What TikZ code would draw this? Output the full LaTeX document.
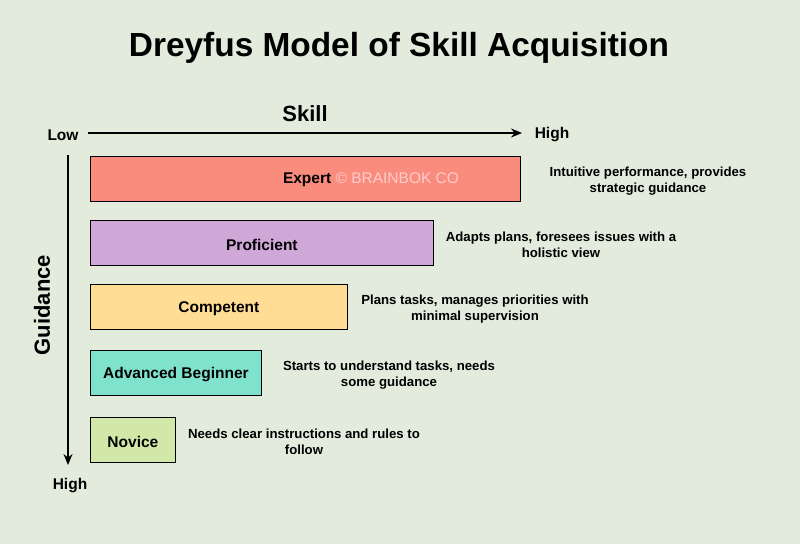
\documentclass[tikz,border=0pt]{standalone}
\usepackage{fontspec}
\setmainfont{Liberation Sans}
\usetikzlibrary{arrows.meta}
\begin{document}
\begin{tikzpicture}[x=1pt,y=-1pt,
  bar/.style={draw=black,line width=0.8pt,anchor=north west,inner sep=0},
  lbl/.style={font=\bfseries\fontsize{15.5}{18}\selectfont},
  desc/.style={font=\bfseries\fontsize{13.2}{16}\selectfont,align=center},
  ax/.style={font=\bfseries\fontsize{15.5}{18}\selectfont},
  arr/.style={-{Stealth[length=11pt,width=9pt]},line width=1.5pt}]
\fill[fill={rgb,255:red,227;green,235;blue,221}] (0,0) rectangle (800,544);
\useasboundingbox (0,0) rectangle (800,544);
\node[font=\bfseries\fontsize{33.4}{38}\selectfont] (title) at (399,48) {Dreyfus Model of Skill Acquisition};
\node[font=\bfseries\fontsize{22}{24}\selectfont] (skill) at (305,114) {Skill};
\node[ax] (low) at (63,135) {Low};
\node[ax] (high1) at (552,135) {High};
\node[ax] (high2) at (70,486) {High};
\coordinate (hs) at (88,133); \coordinate (he) at (522,133);
\draw[arr] (hs) -- (he);
\coordinate (vs) at (68,155); \coordinate (ve) at (68,465);
\draw[arr] (vs) -- (ve);
\node[font=\bfseries\fontsize{22}{24}\selectfont,rotate=90] (guid) at (42,305) {Guidance};
\def\bar#1#2#3#4#5#6#7{%
  \node[bar,fill={rgb,255:#7},minimum width=#3pt,minimum height=45pt] (#1) at (90,#2) {};
  \node[lbl] at ([yshift=-2pt]#1.center) {#4};
  \node[desc] (#1d) at (#6,#2+25) {#5};}
\bar{exp}{156}{430}{}{Intuitive performance, provides\\strategic guidance}{648}{red,250;green,140;blue,126}
\node[lbl] (expl) at (371,180) {Expert \textcolor{white!80!red}{\mdseries © BRAINBOK CO}};
\bar{pro}{220}{343}{Proficient}{Adapts plans, foresees issues with a\\holistic view}{561}{red,208;green,168;blue,216}
\bar{com}{284}{257}{Competent}{Plans tasks, manages priorities with\\minimal supervision}{475}{red,255;green,221;blue,148}
\bar{adv}{350}{171}{Advanced Beginner}{Starts to understand tasks, needs\\some guidance}{389}{red,127;green,226;blue,204}
\bar{nov}{417}{85}{Novice}{Needs clear instructions and rules to\\follow}{304}{red,210;green,232;blue,168}
\end{tikzpicture}
\end{document}
